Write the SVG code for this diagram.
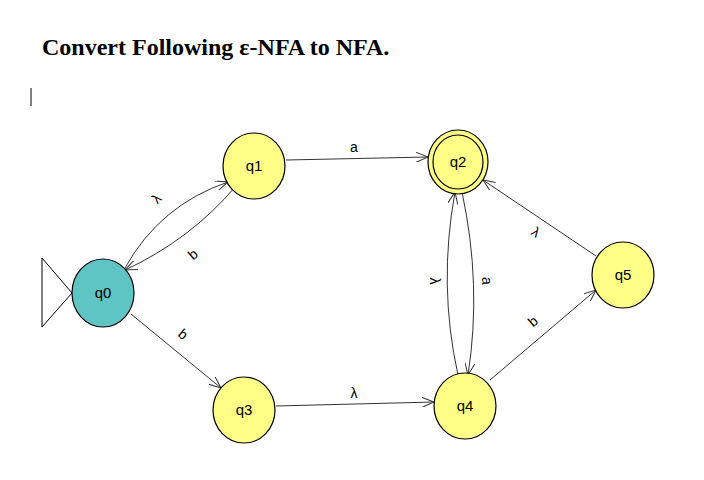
<svg xmlns="http://www.w3.org/2000/svg" width="704" height="480" viewBox="0 0 704 480">
<style>
.st{fill:#ffff88;stroke:#000;stroke-width:1.2}
.nl{font-family:"Liberation Sans",sans-serif;font-size:15px;text-anchor:middle;fill:#000}
.el{font-family:"Liberation Sans",sans-serif;font-size:14px;text-anchor:middle;fill:#000}
.e{fill:none;stroke:#333;stroke-width:1;marker-end:url(#ar)}
</style>
<defs><marker id="ar" viewBox="0 0 12 10" refX="12" refY="5" markerWidth="12" markerHeight="10" orient="auto" markerUnits="userSpaceOnUse"><path d="M0,0 L12,5 L0,10" fill="none" stroke="#333"/></marker></defs>
<rect width="704" height="480" fill="#fff"/>
<text x="42" y="55" font-family="Liberation Serif,serif" font-size="24" font-weight="bold">Convert Following ε-NFA to NFA.</text>
<line x1="31" y1="88" x2="31" y2="106" stroke="#000"/>
<g id="edges">
<path class="e" d="M125,268 Q160,205 228,182"/>
<path class="e" d="M236,186 Q190,240 125,270"/>
<path class="e" d="M286,160 L428,157"/>
<path class="e" d="M131,314 L221,388"/>
<path class="e" d="M276,406 L434,402"/>
<path class="e" d="M458,375 Q438,285 455,192"/>
<path class="e" d="M462,192 Q482,285 468,375"/>
<path class="e" d="M490,380 L596,290"/>
<path class="e" d="M596,256 L483,180"/>
<text class="el" transform="translate(160,202) rotate(-45)">λ</text>
<text class="el" transform="translate(196,258) rotate(-40)">b</text>
<text class="el" x="354" y="152">a</text>
<text class="el" transform="translate(180,338) rotate(40)">b</text>
<text class="el" x="354" y="398">λ</text>
<text class="el" transform="translate(430,281) rotate(90)">λ</text>
<text class="el" transform="translate(482,281) rotate(90)">a</text>
<text class="el" transform="translate(536,325) rotate(-40)">b</text>
<text class="el" transform="translate(533,236) rotate(35)">λ</text>
</g>
<g id="q0"><polygon points="42,258 72,293 42,327" fill="#fff" stroke="#000"/><ellipse cx="103" cy="293" rx="31" ry="34" fill="#5fc4c4" stroke="#000" stroke-width="1.2"/><text class="nl" x="103" y="298">q0</text></g>
<g id="q1"><ellipse class="st" cx="254" cy="166" rx="31" ry="33"/><text class="nl" x="254" y="171">q1</text></g>
<g id="q2"><ellipse class="st" cx="458" cy="162" rx="30" ry="32"/><ellipse class="st" cx="458" cy="162" rx="25" ry="27"/><text class="nl" x="458" y="167">q2</text></g>
<g id="q3"><ellipse class="st" cx="244" cy="410" rx="31" ry="33"/><text class="nl" x="244" y="415">q3</text></g>
<g id="q4"><ellipse class="st" cx="465" cy="406" rx="31" ry="33"/><text class="nl" x="465" y="411">q4</text></g>
<g id="q5"><ellipse class="st" cx="623" cy="275" rx="31" ry="33"/><text class="nl" x="623" y="280">q5</text></g>
</svg>
